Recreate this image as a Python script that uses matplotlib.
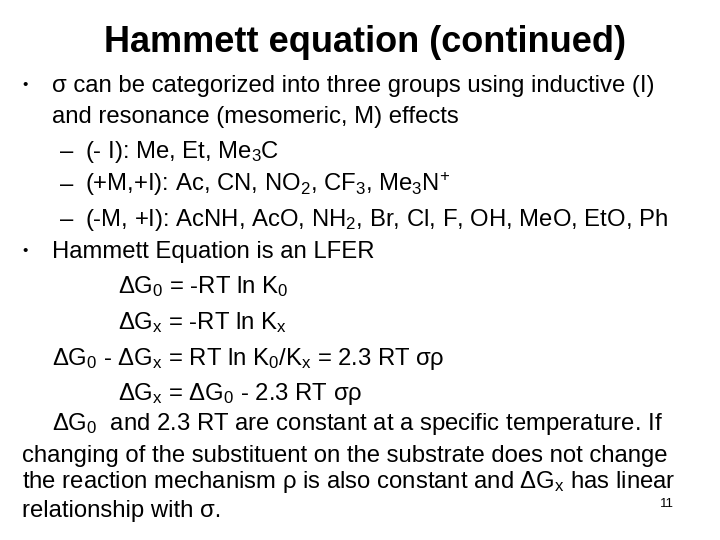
import matplotlib
matplotlib.use("Agg")
import matplotlib.pyplot as plt

plt.rcParams['font.family'] = ['Liberation Sans', 'DejaVu Sans']
plt.rcParams['mathtext.fontset'] = 'custom'
plt.rcParams['mathtext.rm'] = 'Liberation Sans'
plt.rcParams['mathtext.it'] = 'Liberation Sans'
plt.rcParams['mathtext.default'] = 'regular'

W, H = 720, 540

title = "Hammett equation (continued)"

# (x, baseline y, text) in pixels of the slide
bullets = [(22, 92), (22, 258)]
body = [
    (52, 92, "σ can be categorized into three groups using inductive (I)"),
    (52, 123, "and resonance (mesomeric, M) effects"),
    (85, 158, "(- I): Me, Et, Me$_3$C"),
    (85, 191, "(+M,+I): Ac, CN, NO$_2$, CF$_3$, Me$_3$N$^{+}$"),
    (85, 226, "(-M, +I): AcNH, AcO, NH$_2$, Br, Cl, F, OH, MeO, EtO, Ph"),
    (52, 258, "Hammett Equation is an LFER"),
    (118, 293, "ΔG$_0$ = -RT ln K$_0$"),
    (118, 329, "ΔG$_x$ = -RT ln K$_x$"),
    (52, 365, "ΔG$_0$ - ΔG$_x$ = RT ln K$_0$/K$_x$ = 2.3 RT σρ"),
    (118, 400, "ΔG$_x$ = ΔG$_0$ - 2.3 RT σρ"),
    (52, 430, "ΔG$_0$  and 2.3 RT are constant at a specific temperature. If"),
    (22, 462, "changing of the substituent on the substrate does not change"),
    (22, 488, "the reaction mechanism ρ is also constant and ΔG$_x$ has linear"),
    (22, 517, "relationship with σ."),
]
dashes = [(60, 158), (60, 191), (60, 226)]
page_no = "11"

fig = plt.figure(figsize=(W / 100, H / 100), dpi=100)
fig.patch.set_facecolor("white")


def put(x, y, s, **kw):
    fig.text(x / W, 1 - y / H, s, va="baseline", **kw)


put(365, 52, title, ha="center", fontsize=26, fontweight="bold")
for x, y in bullets:
    put(x, y - 3, "•", fontsize=11)
for x, y in dashes:
    put(x, y, "–", fontsize=17.2)
for x, y, s in body:
    put(x, y, s, fontsize=17.2)
put(674, 507, page_no, ha="right", fontsize=9.5)

fig.savefig("out.png", dpi=100, facecolor="white")
